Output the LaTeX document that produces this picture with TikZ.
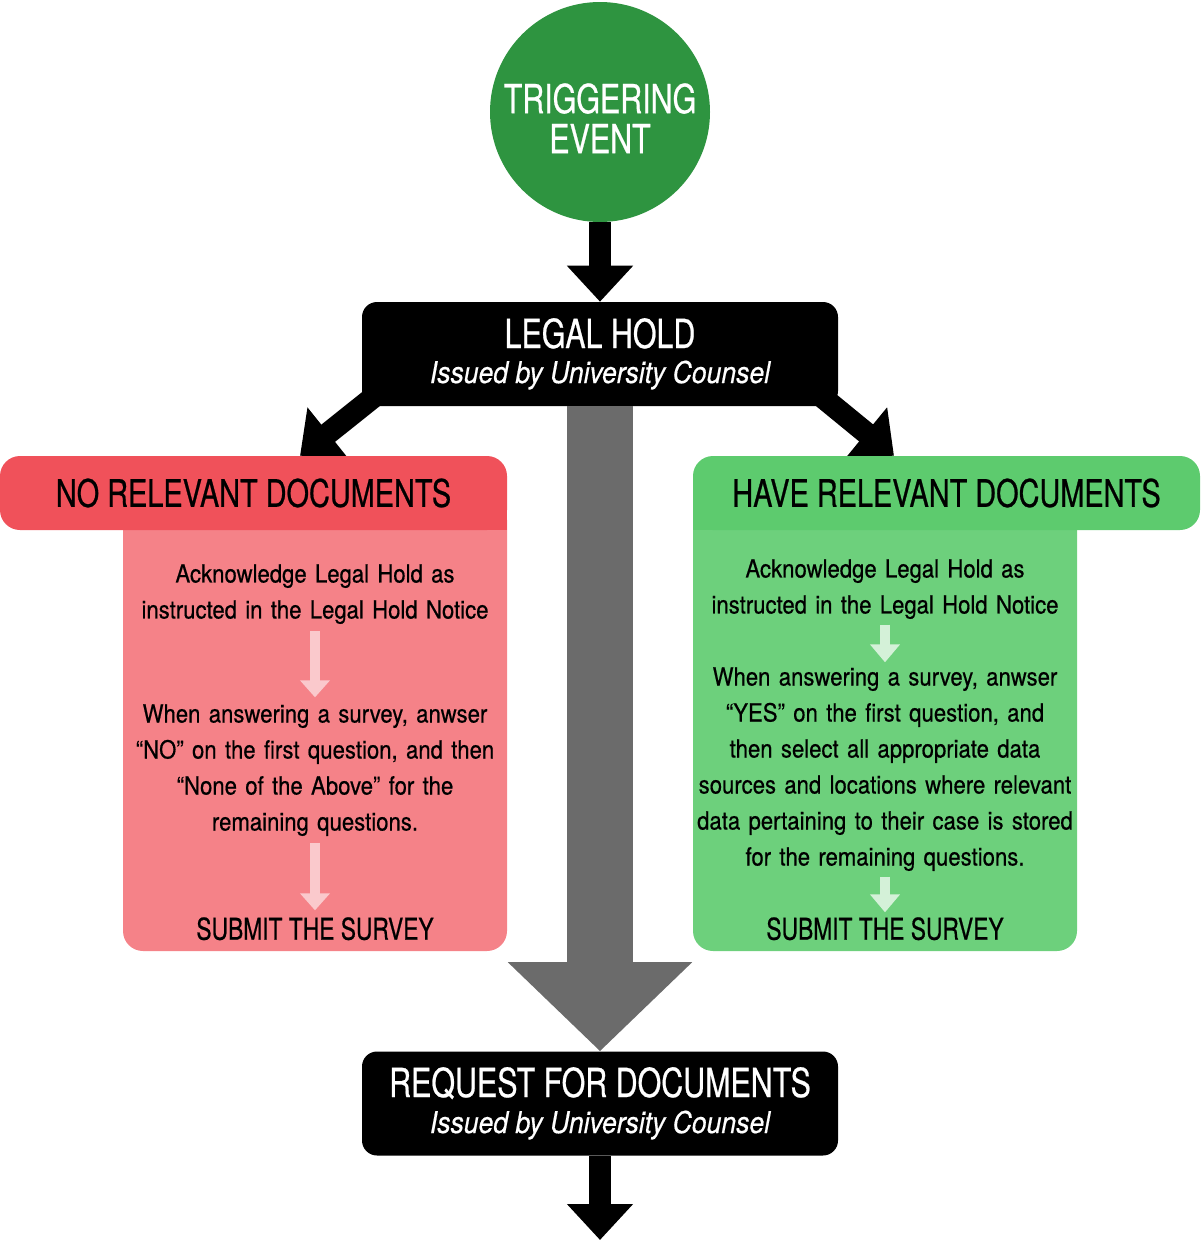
\documentclass[tikz,border=0pt]{standalone}
\usepackage{fontspec}
\usetikzlibrary{arrows.meta,backgrounds}
\newfontfamily\hdfont[FakeStretch=0.76,FakeBold=0.6]{TeX Gyre Heros}
\newfontfamily\bdfont[FakeStretch=0.885,FakeBold=0.5]{TeX Gyre Heros}
\definecolor{trigGreen}{RGB}{46,148,64}
\definecolor{noRed}{RGB}{240,81,90}
\definecolor{noPink}{RGB}{245,130,136}
\definecolor{pinkTip}{RGB}{250,201,204}
\definecolor{haveGreen}{RGB}{93,203,110}
\definecolor{haveLight}{RGB}{109,208,124}
\definecolor{greenTip}{RGB}{212,241,216}
\definecolor{flowGray}{RGB}{107,107,107}
\begin{document}
\begin{tikzpicture}[x=0.75pt,y=-0.75pt,
  blackbox/.style={fill=black,rounded corners=11.25pt,minimum width=357pt,minimum height=78pt,inner sep=0},
  hdr/.style={rounded corners=15pt,minimum width=380.25pt,minimum height=55.5pt,inner sep=0,
    font=\hdfont\fontsize{28.5}{28.5}\selectfont},
  title/.style={text=white,inner sep=0,anchor=base,font=\hdfont\fontsize{30}{30}\selectfont},
  sub/.style={text=white,inner sep=0,anchor=base,font=\bdfont\itshape\fontsize{22.5}{26}\selectfont},
  steps/.style={inner sep=0,anchor=north,text width=315pt,align=center,font=\bdfont\fontsize{18.75}{27}\selectfont},
  submit/.style={inner sep=0,anchor=north,font=\hdfont\fontsize{22.5}{22.5}\selectfont},
  bigarr/.style={draw=black,line width=16.5pt,-{Triangle[length=27pt,width=48pt]}},
  grayarr/.style={draw=flowGray,line width=49.5pt,-{Triangle[length=66.75pt,width=134.25pt]}},
  pinkarr/.style={draw=pinkTip,line width=7pt,-{Triangle[length=12.75pt,width=21.75pt]},shorten <=5pt,shorten >=5pt},
  greenarr/.style={draw=greenTip,line width=8pt,-{Triangle[length=13.5pt,width=21.75pt]},shorten <=4pt,shorten >=3.5pt}]
\useasboundingbox (0,0) rectangle (1200,1242);

\node[circle,fill=trigGreen,minimum size=165pt,inner sep=0] at (600,112) (trig) {};
\node[title,anchor=north,text width=165pt,align=center] at (600,83) (trigt) {TRIGGERING\\EVENT};

% two side panels
\fill[noPink,rounded corners=15pt] (123,500) rectangle (507,951);
\node[hdr,fill=noRed] at (253.5,493) (nohdr) {NO RELEVANT DOCUMENTS};
\fill[noRed] (nohdr.south east) rectangle ++(-20,-20);
\fill[haveLight,rounded corners=15pt] (693,500) rectangle (1077,951);
\node[hdr,fill=haveGreen] at (946.5,493) (havehdr) {HAVE RELEVANT DOCUMENTS};
\fill[haveGreen] (havehdr.south west) rectangle ++(20,-20);

\node[steps] at (315,564) (noack) {Acknowledge Legal Hold as\\instructed in the Legal Hold Notice};
\node[steps] at (315,704) (nowhen) {When answering a survey, anwser\\“NO” on the first question, and then\\“None of the Above” for the\\remaining questions.};
\node[submit] at (315,917) (nosub) {SUBMIT THE SURVEY};
\draw[pinkarr] (noack.south) -- (nowhen.north);
\draw[pinkarr] (nowhen.south) -- (nosub.north);

\node[steps] at (885,559) (haveack) {Acknowledge Legal Hold as\\instructed in the Legal Hold Notice};
\node[steps] at (885,667) (havewhen) {When answering a survey, anwser\\“YES” on the first question, and\\then select all appropriate data\\sources and locations where relevant\\data pertaining to their case is stored\\for the remaining questions.};
\node[submit] at (885,917) (havesub) {SUBMIT THE SURVEY};
\draw[greenarr] (haveack.south) -- (havewhen.north);
\draw[greenarr] (havewhen.south) -- (havesub.north);

% main flow
\node[blackbox] at (600,354) (hold) {};
\node[blackbox] at (600,1103.5) (req) {};
\coordinate (reqout) at (600,1240);
\draw[bigarr] (trig.south) -- (hold.north);
\begin{scope}[on background layer]
\draw[bigarr] ([xshift=14.25pt,yshift=11.25pt]hold.south west) -- ([xshift=34.9pt]nohdr.north);
\draw[bigarr] ([xshift=-17.25pt,yshift=11.25pt]hold.south east) -- ([xshift=-39.4pt]havehdr.north);
\end{scope}
\draw[grayarr] (hold.south) -- (req.north);
\draw[bigarr] (req.south) -- (reqout);

\node[title] at (600,348) (holdt) {LEGAL HOLD};
\node[sub] at (600,383) (holds) {Issued by University Counsel};
\node[title] at (600,1097) (reqt) {REQUEST FOR DOCUMENTS};
\node[sub] at (600,1133) (reqs) {Issued by University Counsel};
\end{tikzpicture}
\end{document}
